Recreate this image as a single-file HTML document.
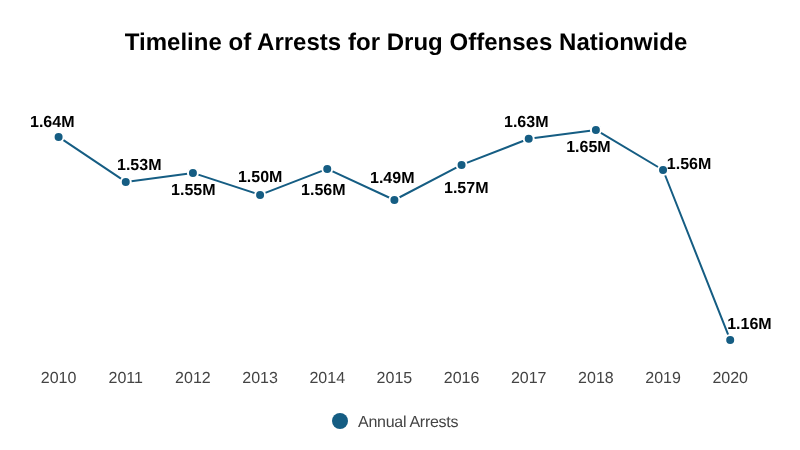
<!DOCTYPE html>
<html><head><meta charset="utf-8"><style>
html,body{margin:0;padding:0;background:#fff;width:800px;height:450px;overflow:hidden}
svg{display:block;will-change:transform;text-rendering:geometricPrecision;font-family:"Liberation Sans",sans-serif}
</style></head><body>
<svg width="800" height="450" viewBox="0 0 800 450">
<rect width="800" height="450" fill="#fff"/>
<text x="406" y="50" text-anchor="middle" font-size="24" font-weight="bold" fill="#000" textLength="562.5" lengthAdjust="spacing">Timeline of Arrests for Drug Offenses Nationwide</text>
<polyline points="58.60,136.9 125.76,181.9 192.92,172.9 260.08,194.9 327.24,168.9 394.40,200 461.56,164.9 528.72,138.8 595.88,129.9 663.04,170 730.20,339.9" fill="none" stroke="#155d83" stroke-width="2" stroke-linejoin="round"/>
<circle cx="58.6" cy="136.9" r="5" fill="#155d83" stroke="#fff" stroke-width="2"/>
<circle cx="125.75999999999999" cy="181.9" r="5" fill="#155d83" stroke="#fff" stroke-width="2"/>
<circle cx="192.92" cy="172.9" r="5" fill="#155d83" stroke="#fff" stroke-width="2"/>
<circle cx="260.08" cy="194.9" r="5" fill="#155d83" stroke="#fff" stroke-width="2"/>
<circle cx="327.24" cy="168.9" r="5" fill="#155d83" stroke="#fff" stroke-width="2"/>
<circle cx="394.4" cy="200" r="5" fill="#155d83" stroke="#fff" stroke-width="2"/>
<circle cx="461.56" cy="164.9" r="5" fill="#155d83" stroke="#fff" stroke-width="2"/>
<circle cx="528.72" cy="138.8" r="5" fill="#155d83" stroke="#fff" stroke-width="2"/>
<circle cx="595.88" cy="129.9" r="5" fill="#155d83" stroke="#fff" stroke-width="2"/>
<circle cx="663.04" cy="170" r="5" fill="#155d83" stroke="#fff" stroke-width="2"/>
<circle cx="730.1999999999999" cy="339.9" r="5" fill="#155d83" stroke="#fff" stroke-width="2"/>
<text x="30.0" y="126.8" font-size="16" font-weight="bold" fill="#000">1.64M</text>
<text x="117.0" y="169.6" font-size="16" font-weight="bold" fill="#000">1.53M</text>
<text x="171.1" y="194.7" font-size="16" font-weight="bold" fill="#000">1.55M</text>
<text x="237.9" y="181.8" font-size="16" font-weight="bold" fill="#000">1.50M</text>
<text x="301.1" y="194.7" font-size="16" font-weight="bold" fill="#000">1.56M</text>
<text x="370.0" y="182.8" font-size="16" font-weight="bold" fill="#000">1.49M</text>
<text x="444.0" y="193.3" font-size="16" font-weight="bold" fill="#000">1.57M</text>
<text x="504.0" y="126.7" font-size="16" font-weight="bold" fill="#000">1.63M</text>
<text x="566.2" y="151.7" font-size="16" font-weight="bold" fill="#000">1.65M</text>
<text x="666.8" y="168.9" font-size="16" font-weight="bold" fill="#000">1.56M</text>
<text x="727.2" y="328.8" font-size="16" font-weight="bold" fill="#000">1.16M</text>
<text x="58.6" y="383" text-anchor="middle" font-size="16" fill="#444">2010</text>
<text x="125.75999999999999" y="383" text-anchor="middle" font-size="16" fill="#444">2011</text>
<text x="192.92" y="383" text-anchor="middle" font-size="16" fill="#444">2012</text>
<text x="260.08" y="383" text-anchor="middle" font-size="16" fill="#444">2013</text>
<text x="327.24" y="383" text-anchor="middle" font-size="16" fill="#444">2014</text>
<text x="394.4" y="383" text-anchor="middle" font-size="16" fill="#444">2015</text>
<text x="461.56" y="383" text-anchor="middle" font-size="16" fill="#444">2016</text>
<text x="528.72" y="383" text-anchor="middle" font-size="16" fill="#444">2017</text>
<text x="595.88" y="383" text-anchor="middle" font-size="16" fill="#444">2018</text>
<text x="663.04" y="383" text-anchor="middle" font-size="16" fill="#444">2019</text>
<text x="730.1999999999999" y="383" text-anchor="middle" font-size="16" fill="#444">2020</text>
<circle cx="340" cy="421" r="8" fill="#155d83"/>
<text x="358" y="427" font-size="16" fill="#444" textLength="100.5" lengthAdjust="spacing">Annual Arrests</text>
</svg>
</body></html>
